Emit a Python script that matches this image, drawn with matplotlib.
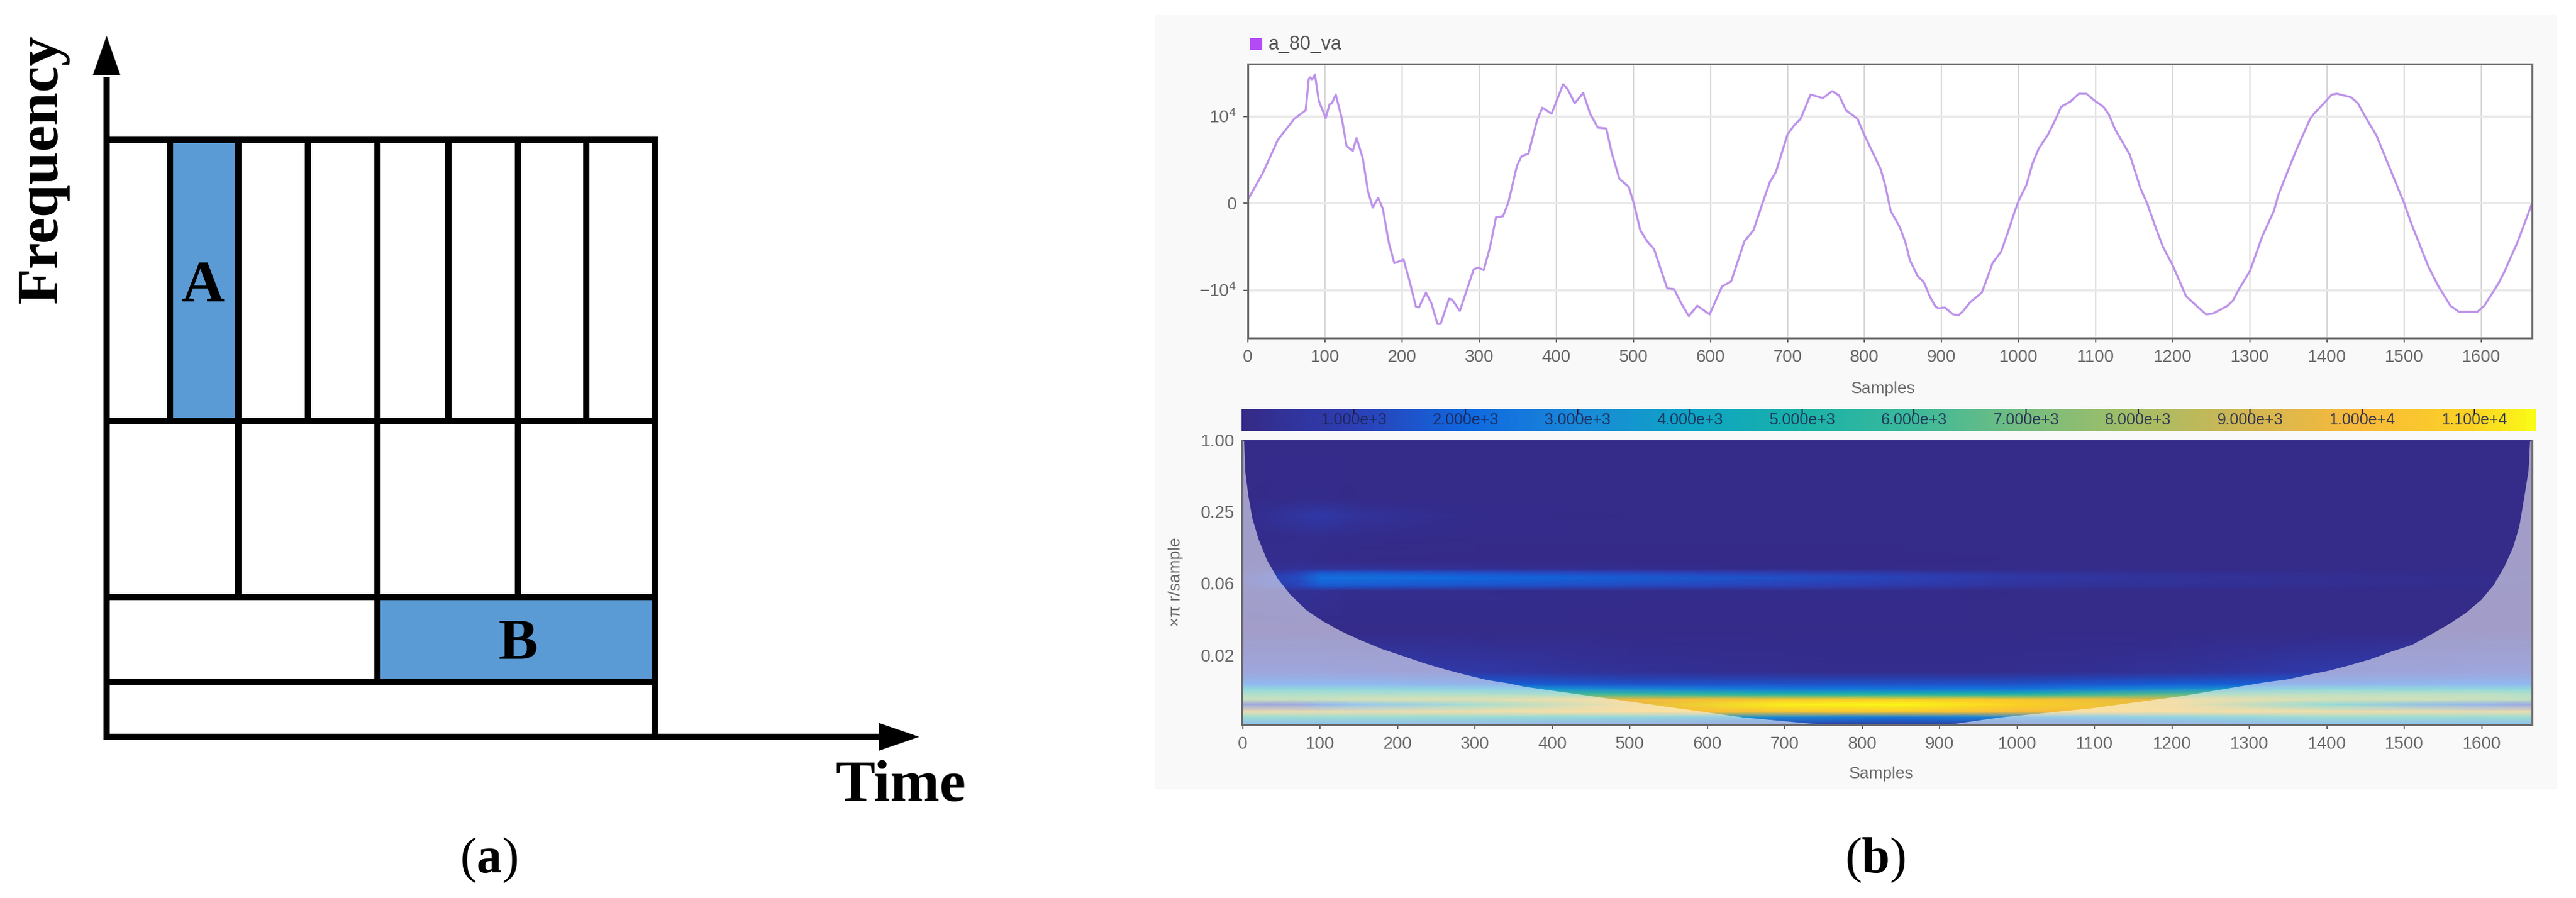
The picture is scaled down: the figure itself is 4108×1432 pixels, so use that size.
import matplotlib
matplotlib.use("Agg")
import matplotlib.pyplot as plt
import numpy as np
from matplotlib.colors import LinearSegmentedColormap, Normalize
from matplotlib.patches import Polygon, Rectangle

W, H = 4108, 1432

# panel (a): time/frequency tiling, time in columns, frequency as share of height
tile_top_times = [0.92, 1.92, 2.94, 3.95, 4.99, 6.0, 7.0]
tile_mid_times = [1.92, 3.95, 6.0]
tile_low_times = [3.95]
band_edges = [0.092, 0.234, 0.529, 1.0]
tile_a = (0.92, 1.92, 0.529, 1.0)
tile_b = (3.95, 8.0, 0.092, 0.234)

# panel (b): waveform
wave_x = [0, 19, 39, 60, 75, 79, 81, 83, 87, 92, 101, 106, 109, 114, 122, 128, 136, 141, 149, 156,
          162, 169, 175, 183, 190, 202, 209, 218, 222, 231, 238, 246, 250, 261, 265, 275, 284, 293,
          299, 306, 314, 322, 331, 338, 349, 355, 364, 375, 382, 394, 401, 409, 415, 424, 435, 444,
          454, 465, 472, 482, 494, 501, 509, 518, 527, 536, 544, 553, 562, 572, 583, 599, 615, 627,
          644, 656, 668, 677, 685, 700, 709, 717, 730, 746, 758, 767, 776, 791, 799, 821, 827, 834,
          846, 853, 859, 869, 877, 885, 892, 896, 904, 915, 922, 928, 937, 952, 958, 966, 977, 985,
          995, 1000, 1010, 1018, 1026, 1038, 1048, 1055, 1067, 1078, 1088, 1097, 1110, 1117, 1125,
          1144, 1158, 1167, 1176, 1187, 1200, 1217, 1223, 1243, 1252, 1271, 1278, 1285, 1300, 1316,
          1331, 1337, 1350, 1360, 1378, 1383, 1400, 1406, 1413, 1431, 1440, 1450, 1464, 1482, 1500,
          1510, 1531, 1544, 1560, 1571, 1595, 1604, 1622, 1630, 1647, 1666]
wave_y = [0.04, 0.34, 0.73, 0.97, 1.07, 1.43, 1.45, 1.42, 1.48, 1.18, 0.98, 1.14, 1.15, 1.25, 0.97,
          0.66, 0.6, 0.75, 0.52, 0.13, -0.05, 0.06, -0.06, -0.46, -0.69, -0.65, -0.87, -1.19, -1.2,
          -1.03, -1.15, -1.39, -1.39, -1.1, -1.11, -1.24, -1.0, -0.76, -0.74, -0.77, -0.51, -0.16,
          -0.15, 0.01, 0.43, 0.54, 0.57, 0.95, 1.1, 1.03, 1.19, 1.37, 1.31, 1.15, 1.27, 1.03, 0.87,
          0.86, 0.58, 0.28, 0.19, -0.01, -0.31, -0.44, -0.53, -0.77, -0.98, -0.99, -1.15, -1.3, -1.18,
          -1.28, -0.96, -0.9, -0.44, -0.31, 0.01, 0.24, 0.36, 0.79, 0.9, 0.97, 1.25, 1.21, 1.29, 1.24,
          1.07, 0.97, 0.8, 0.39, 0.2, -0.09, -0.28, -0.45, -0.66, -0.84, -0.91, -1.08, -1.19, -1.21,
          -1.2, -1.28, -1.29, -1.24, -1.14, -1.03, -0.89, -0.69, -0.56, -0.36, -0.09, 0.03, 0.21, 0.46,
          0.63, 0.79, 0.97, 1.11, 1.17, 1.26, 1.26, 1.19, 1.11, 1.02, 0.85, 0.56, 0.17, -0.01, -0.24,
          -0.5, -0.72, -1.07, -1.12, -1.28, -1.27, -1.18, -1.12, -1.0, -0.78, -0.38, -0.09, 0.1, 0.39,
          0.61, 0.97, 1.03, 1.19, 1.25, 1.26, 1.22, 1.15, 0.99, 0.78, 0.39, 0.0, -0.25, -0.72, -0.95,
          -1.18, -1.25, -1.25, -1.18, -0.93, -0.79, -0.45, 0.0]
wave_xticks = list(range(0, 1700, 100))
wave_yticks = [-1e4, 0, 1e4]
wave_ylabels = ["$-10^4$", "0", "$10^4$"]

# panel (b): scalogram magnitudes, rows top to bottom
scalo_x = [0, 70, 100, 150, 300, 500, 700, 850, 1000, 1200, 1400, 1600, 1668]
scalo_f = [1.0, 0.32, 0.234, 0.15, 0.0965, 0.0825, 0.078, 0.0702, 0.06, 0.054, 0.0247,
           0.0112, 0.0089, 0.0081, 0.0073, 0.0066, 0.006, 0.0052, 0.0047, 0.004]
scalo_z = [
    [50, 50, 50, 50, 50, 50, 50, 50, 50, 50, 50, 50, 50],
    [80, 100, 100, 80, 60, 50, 50, 50, 50, 50, 50, 50, 50],
    [100, 550, 750, 450, 130, 80, 60, 60, 50, 50, 50, 50, 50],
    [100, 150, 150, 100, 80, 70, 60, 60, 50, 50, 50, 50, 50],
    [100, 200, 120, 60, 40, 40, 40, 40, 50, 50, 50, 50, 50],
    [150, 400, 450, 450, 300, 200, 120, 90, 60, 60, 50, 50, 50],
    [250, 900, 1500, 1500, 1300, 1050, 800, 600, 380, 230, 150, 100, 80],
    [500, 1300, 2300, 2300, 2050, 1750, 1400, 1100, 700, 450, 300, 180, 150],
    [400, 1100, 1700, 1650, 1500, 1300, 1050, 800, 480, 330, 230, 150, 100],
    [200, 350, 280, 180, 150, 120, 100, 100, 80, 80, 80, 80, 80],
    [60, 60, 60, 60, 60, 60, 60, 60, 60, 60, 60, 60, 60],
    [1000, 1000, 1000, 900, 700, 350, 200, 180, 200, 400, 800, 1000, 1000],
    [2000, 2000, 2000, 2000, 1800, 1500, 1500, 1500, 1500, 1800, 1800, 2000, 2000],
    [4500, 4500, 4500, 4300, 3800, 3000, 2500, 2400, 2400, 3200, 4500, 4500, 4500],
    [6500, 6500, 6500, 6500, 6500, 6000, 5200, 5200, 5200, 6500, 7000, 7000, 6500],
    [7500, 7500, 7500, 8000, 8500, 9800, 10500, 10800, 10500, 9500, 8000, 7500, 7000],
    [1000, 1200, 1800, 3000, 6000, 9500, 11400, 11500, 11000, 9500, 5000, 1800, 1200],
    [9000, 9000, 9000, 9000, 9500, 10000, 10300, 10500, 10000, 9800, 9500, 9000, 9000],
    [5500, 5500, 5500, 5500, 5200, 4500, 3000, 2500, 3000, 4000, 5500, 5500, 5500],
    [2000, 2000, 2000, 2000, 1800, 1400, 800, 500, 800, 1400, 2000, 2000, 2000],
]
coi_left_x = [0, 1.4, 2.7, 6.8, 12, 20, 31, 45, 61, 82, 104, 126, 153, 180, 207, 234, 261, 288, 315,
              342, 364, 411, 470, 529, 646, 763]
coi_left_f = [1.0, 0.983, 0.559, 0.344, 0.221, 0.148, 0.0985, 0.0686, 0.0507, 0.0374, 0.03, 0.025,
              0.0208, 0.0176, 0.0154, 0.0134, 0.0119, 0.0107, 0.0097, 0.0091, 0.0085, 0.0077, 0.0068,
              0.006, 0.0047, 0.004]
coi_right_x = [1664, 1662, 1660, 1654, 1648, 1640, 1629, 1615, 1599, 1580, 1558, 1537, 1510, 1483,
               1456, 1429, 1402, 1375, 1348, 1321, 1294, 1212, 1095, 978, 901]
coi_right_f = [1.0, 0.98, 0.559, 0.318, 0.188, 0.126, 0.0874, 0.0609, 0.0458, 0.0359, 0.0288, 0.024,
               0.0192, 0.0168, 0.0145, 0.0129, 0.0116, 0.0107, 0.0098, 0.0093, 0.0087, 0.0071, 0.0056,
               0.0047, 0.004]
scalo_xticks = list(range(0, 1700, 100))
scalo_yticks = [1.0, 0.25, 0.0625, 0.015625]
scalo_ylabels = ["1.00", "0.25", "0.06", "0.02"]
bar_ticks = [1000 * i for i in range(1, 12)]
bar_labels = ["1.000e+3", "2.000e+3", "3.000e+3", "4.000e+3", "5.000e+3", "6.000e+3",
              "7.000e+3", "8.000e+3", "9.000e+3", "1.000e+4", "1.100e+4"]
bar_max = 11550
bar_stops = [0, 1000, 2000, 3000, 4000, 5000, 6000, 7000, 8000, 9000, 10000, 11000, 11550]
bar_colors = ["#352a87", "#2d3fb5", "#0f68e0", "#1a88d8", "#0ea4c4", "#19b2a8", "#3cb99a",
              "#76bd7f", "#a5bd65", "#d2b652", "#f9ba3a", "#fbd224", "#f9fb15"]

plt.rcParams["font.family"] = ["Liberation Sans", "DejaVu Sans"]
plt.rcParams["mathtext.default"] = "regular"
plt.rcParams["mathtext.fontset"] = "custom"
plt.rcParams["mathtext.bf"] = "Liberation Serif:bold"
plt.rcParams["mathtext.rm"] = "Liberation Serif"

GRAY = "#6a6a6a"
SERIF = "Liberation Serif"


def axes_px(fig, left, top, right, bottom):
    return fig.add_axes([left / W, 1 - bottom / H, (right - left) / W, (bottom - top) / H])


def text_px(fig, x, y, s, **kwargs):
    kwargs.setdefault("ha", "center")
    kwargs.setdefault("va", "center")
    return fig.text(x / W, 1 - y / H, s, **kwargs)


def poly_px(fig, points, color):
    xy = [(x / W, 1 - y / H) for x, y in points]
    fig.add_artist(Polygon(xy, closed=True, color=color, transform=fig.transFigure, lw=0))


def draw_tiling(fig):
    ax = axes_px(fig, 170, 223, 1044, 1175)
    ax.set_xlim(0, 8)
    ax.set_ylim(0, 1)
    ax.axis("off")
    lw = 7.2
    blue = "#5b9bd5"
    for t0, t1, f0, f1 in (tile_a, tile_b):
        ax.add_patch(Rectangle((t0, f0), t1 - t0, f1 - f0, color=blue, lw=0))
    kw = dict(colors="black", linewidths=lw, clip_on=False, capstyle="projecting")
    ax.hlines(band_edges, 0, 8, **kw)
    ax.vlines(tile_top_times, band_edges[2], 1, **kw)
    ax.vlines(tile_mid_times, band_edges[1], band_edges[2], **kw)
    ax.vlines(tile_low_times, band_edges[0], band_edges[1], **kw)
    ax.vlines(8, 0, 1, **kw)
    ax.vlines(0, 0, 1.1, **kw)
    ax.hlines(0, 0, 11.28, **kw)
    poly_px(fig, [(170, 57), (148, 120), (192, 120)], "black")
    poly_px(fig, [(1466, 1175), (1402, 1153), (1402, 1197)], "black")

    bold = dict(family=SERIF, fontweight="bold", color="black")
    text_px(fig, 323, 458, "A", fontsize=68, **bold)
    text_px(fig, 826, 1028, "B", fontsize=68, **bold)
    text_px(fig, 68, 270, "Frequency", fontsize=68, rotation=90, **bold)
    text_px(fig, 1437, 1255, "Time", fontsize=68, **bold)
    text_px(fig, 779, 1372, r"($\mathbf{a}$)", fontsize=58, family=SERIF, color="black")
    text_px(fig, 2990, 1372, r"($\mathbf{b}$)", fontsize=58, family=SERIF, color="black")


def style_axes(ax):
    for spine in ax.spines.values():
        spine.set_color(GRAY)
        spine.set_linewidth(2.2)
    ax.tick_params(colors=GRAY, labelsize=20, length=5, width=1.5, pad=8)


def draw_wave(fig):
    ax = axes_px(fig, 1990, 102, 4038, 539)
    ax.plot(wave_x, np.array(wave_y) * 1e4, color="#bd93ea", lw=2.4, solid_joinstyle="round")
    ax.set_xlim(0, 1666)
    ax.set_ylim(-1.552e4, 1.603e4)
    ax.set_xticks(wave_xticks)
    ax.set_yticks(wave_yticks, wave_ylabels)
    ax.xaxis.grid(True, color="#d8d8d8", lw=1.6)
    ax.yaxis.grid(True, color="#e9e9e9", lw=2.6)
    ax.set_axisbelow(True)
    style_axes(ax)

    fig.add_artist(Rectangle((1993 / W, 1 - 80 / H), 20 / W, 19 / H, color="#b24bf3",
                             transform=fig.transFigure, lw=0))
    text_px(fig, 2023, 71, "a_80_va", ha="left", fontsize=22, color="#555555")
    text_px(fig, 3003, 620, "Samples", fontsize=19, color=GRAY)


def draw_scalogram(fig):
    cmap = LinearSegmentedColormap.from_list(
        "bar", [(s / bar_max, c) for s, c in zip(bar_stops, bar_colors)])
    norm = Normalize(0, bar_max)

    ax = axes_px(fig, 1980, 702, 4038, 1156)
    mesh = ax.pcolormesh(scalo_x, scalo_f, np.array(scalo_z), cmap=cmap, norm=norm, shading="gouraud")
    ax.set_yscale("log", base=4)
    ax.fill_betweenx(coi_left_f, 0, coi_left_x, color="white", alpha=0.54, lw=0)
    ax.fill_betweenx(coi_right_f, coi_right_x, 1668, color="white", alpha=0.54, lw=0)
    ax.set_xlim(-1.5, 1665)
    ax.set_ylim(0.00404, 1)
    ax.set_xticks(scalo_xticks)
    ax.set_yticks(scalo_yticks, scalo_ylabels)
    ax.minorticks_off()
    style_axes(ax)
    ax.tick_params(axis="y", length=0)
    ax.spines["top"].set_visible(False)
    text_px(fig, 1875, 928, "×π r/sample", rotation=90, fontsize=19, color=GRAY)
    text_px(fig, 3000, 1234, "Samples", fontsize=19, color=GRAY)

    cax = axes_px(fig, 1980, 652, 4044, 687)
    cb = fig.colorbar(mesh, cax=cax, orientation="horizontal")
    cb.outline.set_visible(False)
    cb.set_ticks(bar_ticks)
    cax.tick_params(axis="x", direction="in", bottom=False, top=True, labelbottom=False,
                    labeltop=False, length=6, width=1.5, color="#222244")
    for value, label in zip(bar_ticks, bar_labels):
        cax.text(value, 0.5, label, ha="center", va="center", fontsize=18, color="#1c2450",
                 alpha=0.85, transform=cax.get_xaxis_transform())


def main():
    fig = plt.figure(figsize=(W / 100, H / 100), dpi=100, facecolor="white")
    fig.add_artist(Rectangle((1842 / W, 1 - 1258 / H), 2235 / W, 1234 / H, color="#f9f9f9",
                             transform=fig.transFigure, lw=0, zorder=-5))
    draw_tiling(fig)
    draw_wave(fig)
    draw_scalogram(fig)
    fig.savefig("out.png", dpi=100)


if __name__ == "__main__":
    main()
